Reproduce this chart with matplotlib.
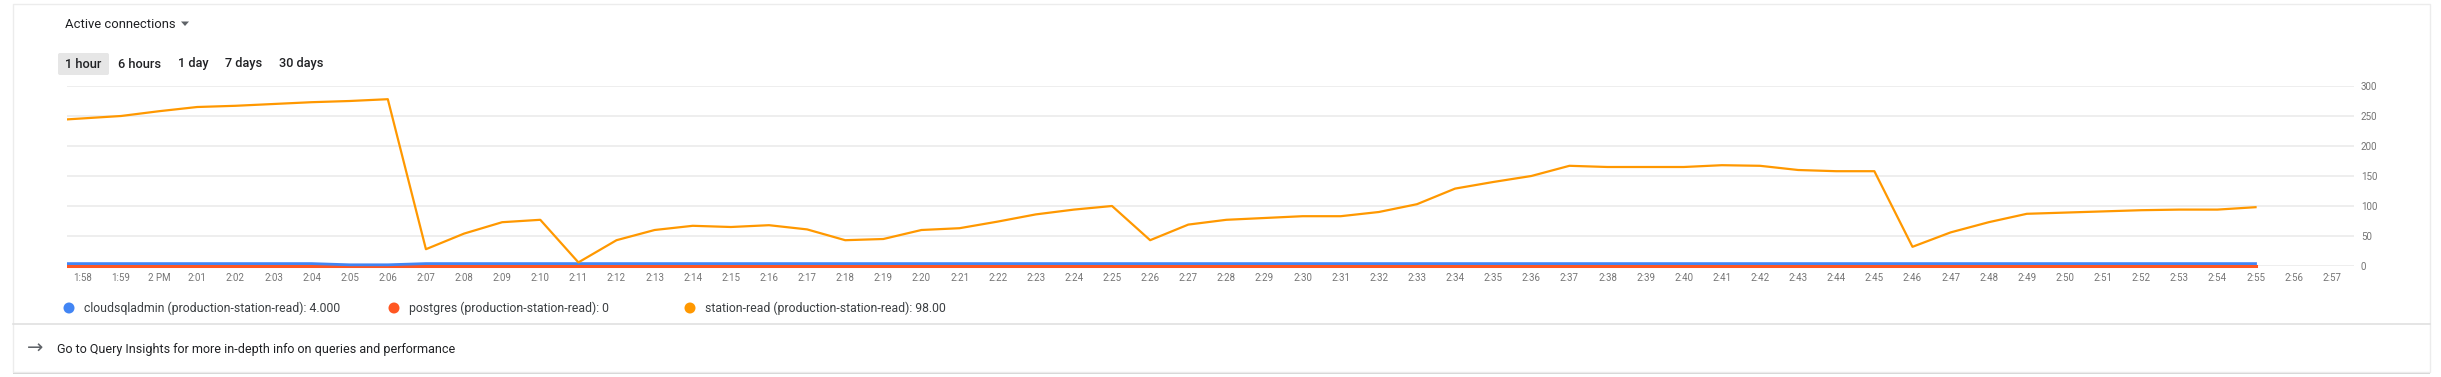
# Cloud SQL の接続数グラフ (Active connections)

import matplotlib
matplotlib.use('Agg')
import matplotlib.pyplot as plt
from matplotlib.patches import FancyBboxPatch, Rectangle, Circle, Polygon
import pandas as pd


# 1分ごとのデータ (13:57 〜 14:55)
times = pd.date_range('2021-01-01 13:57', '2021-01-01 14:55', freq='min')

station_read = [242, 246, 250, 258, 265, 267, 270, 273, 275, 278,
                28, 54, 73, 77, 6, 43, 60, 67, 65, 68,
                61, 43, 45, 60, 63, 74, 86, 94, 100, 43,
                69, 77, 80, 83, 83, 90, 103, 129, 140, 150,
                167, 165, 165, 165, 168, 167, 160, 158, 158, 32,
                56, 73, 87, 89, 91, 93, 94, 94, 98]
cloudsqladmin = [4, 4, 4, 4, 4, 4, 4, 4, 2, 2] + [4] * 49
postgres = [0] * 59

series_names = ['cloudsqladmin (production-station-read)',
                'postgres (production-station-read)',
                'station-read (production-station-read)']
series_colors = ['#4285f4', '#ff5722', '#ff9800']

tick_times = pd.date_range('2021-01-01 13:58', '2021-01-01 14:57', freq='min')
tick_labels = ['1:58', '1:59', '2 PM'] + ['2:%02d' % m for m in range(1, 58)]

y_ticks = [0, 50, 100, 150, 200, 250, 300]

tabs = ['1 hour', '6 hours', '1 day', '7 days', '30 days']
tab_x = [65, 118, 178, 225, 279]

W, H = 2441, 377

plt.rcParams['font.family'] = ['Roboto', 'DejaVu Sans']

fig = plt.figure(figsize=(W / 100, H / 100), dpi=100)
fig.patch.set_facecolor('white')

# 背景 (ピクセル座標)
bg = fig.add_axes([0, 0, 1, 1])
bg.set_xlim(0, W)
bg.set_ylim(H, 0)
bg.axis('off')

# カード
bg.add_patch(Rectangle((13, 5), 2417, 369, facecolor='#d4d4d4', edgecolor='none', zorder=0))
bg.add_patch(Rectangle((13, 4), 2417, 368, facecolor='white', edgecolor='#ececec', lw=1, zorder=1))
bg.plot([13, 2430], [324, 324], color='#e0e0e0', lw=1.2, zorder=2)

# タイトル
bg.text(65, 24, 'Active connections', fontsize=9.4, color='#202124', va='center', ha='left', zorder=3)
bg.add_patch(Polygon([[181, 21.5], [189, 21.5], [185, 26]], closed=True,
                     facecolor='#5f6368', edgecolor='none', zorder=3))

# 期間ボタン
bg.add_patch(FancyBboxPatch((58, 53), 51, 22, boxstyle='round,pad=0,rounding_size=2',
                            facecolor='#e6e6e6', edgecolor='none', zorder=2))
for x, t in zip(tab_x, tabs):
    bg.text(x, 64, t, fontsize=9.2, fontweight='medium', color='#202124',
            va='center', ha='left', zorder=3)


def fmt_value(v):
    if v == 0:
        return '0'
    return '%#.4g' % v


# 凡例
last_values = [cloudsqladmin[-1], postgres[-1], station_read[-1]]
legend_x = [69, 394, 690]
for x, name, c, v in zip(legend_x, series_names, series_colors, last_values):
    bg.add_patch(Circle((x, 308), 5.5, facecolor=c, edgecolor='none', zorder=3))
    bg.text(x + 15, 308, '%s: %s' % (name, fmt_value(v)), fontsize=8.8,
            color='#3c4043', va='center', ha='left', zorder=3)

# 下のリンク
bg.text(27, 348, '→', fontsize=14, family='DejaVu Sans', color='#5f6368',
        va='center', ha='left', zorder=3)
bg.text(57, 349, 'Go to Query Insights for more in-depth info on queries and performance',
        fontsize=9.0, color='#202124', va='center', ha='left', zorder=3)

# グラフ本体
left, right, top, bottom = 67, 2354, 86, 266
ax = fig.add_axes([left / W, 1 - bottom / H, (right - left) / W, (bottom - top) / H])
ax.set_facecolor('none')

clip = Rectangle((0, -0.05), 1, 1.1, transform=ax.transAxes, facecolor='none', edgecolor='none')
ax.add_patch(clip)

l_pg, = ax.plot(times, postgres, color=series_colors[1], lw=2.2, zorder=3)
l_adm, = ax.plot(times, cloudsqladmin, color=series_colors[0], lw=2.0, zorder=4)
l_sr, = ax.plot(times, station_read, color=series_colors[2], lw=1.6, zorder=5)
for ln in (l_pg, l_adm, l_sr):
    ln.set_clip_path(clip)

ax.set_xlim(pd.Timestamp('2021-01-01 13:57:35'), pd.Timestamp('2021-01-01 14:57:35'))
ax.set_ylim(0, 300)

ax.set_xticks(tick_times)
ax.set_xticklabels(tick_labels)
ax.set_yticks(y_ticks)
ax.yaxis.tick_right()
ax.tick_params(axis='x', length=0, pad=5, labelsize=7, labelcolor='#757575')
ax.tick_params(axis='y', length=0, pad=5, labelsize=7.1, labelcolor='#757575')
ax.grid(axis='y', color='#ebebeb', lw=1.2)
ax.set_axisbelow(True)
for s in ax.spines.values():
    s.set_visible(False)

plt.savefig('out.png', dpi=100)
